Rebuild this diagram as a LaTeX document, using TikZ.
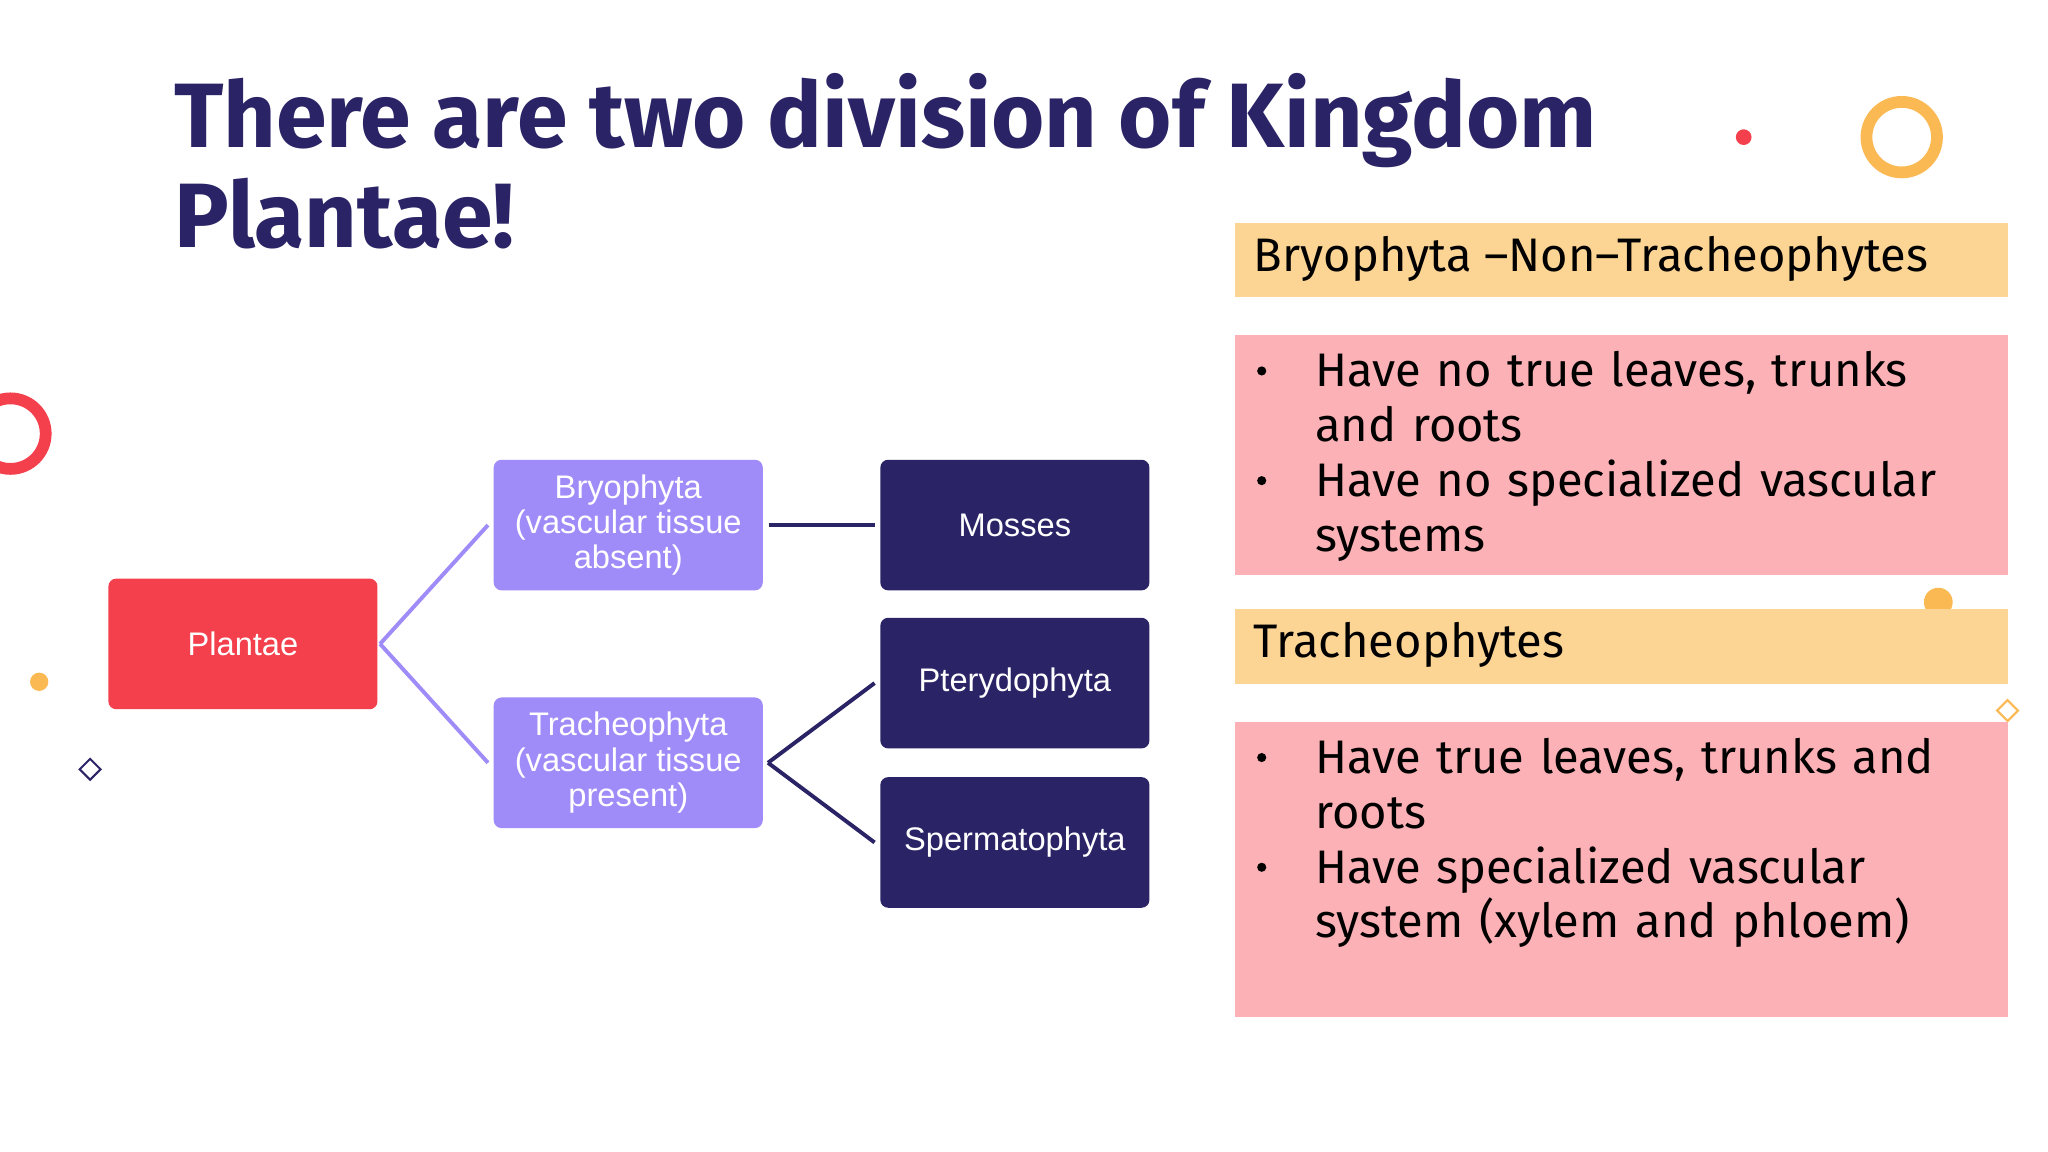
\documentclass[tikz,border=0pt]{standalone}
\usepackage{fontspec}
\setmainfont{Fira Sans}
\newfontfamily\arialf{Liberation Sans}
\usetikzlibrary{shapes.geometric}
\definecolor{navy}{HTML}{2A2466}
\definecolor{redc}{HTML}{F43F4C}
\definecolor{lav}{HTML}{A08CF8}
\definecolor{yel}{HTML}{FCD595}
\definecolor{pinkc}{HTML}{FBB1B5}
\definecolor{orng}{HTML}{FBB954}
\tikzset{
 box/.style={rounded corners=3pt,minimum width=103pt,minimum height=50pt,text=white,font=\arialf\fontsize{12.5}{13.5}\selectfont,align=center,inner sep=1pt},
 band/.style={fill=yel,draw=none,anchor=north west,minimum width=296pt,minimum height=28.5pt,inner sep=0pt},
 pinkbox/.style={fill=pinkc,draw=none,anchor=north west,minimum width=296pt,inner sep=0pt},
 rtext/.style={font=\fontsize{18}{21}\selectfont,text=black,anchor=west},
 btext/.style={font=\fontsize{18}{21}\selectfont,text=black,anchor=north west,align=left,text width=270pt},
 conn/.style={line width=1.5pt}
}
\begin{document}
\begin{tikzpicture}[x=0.5pt,y=-0.5pt]
\useasboundingbox (0,0) rectangle (1568,882);
\fill[white] (0,0) rectangle (1568,882);
% title
\node[anchor=north west,align=left,text=navy,font=\bfseries\fontsize{35}{38}\selectfont,inner sep=0pt] (title) at (133,56) {There are two division of Kingdom\\Plantae!};
% decorations
\fill[redc] (1335,105) circle (6);
\draw[orng,line width=4.5pt] (1456,105) circle (27);
\draw[redc,line width=4.5pt] (8,332) circle (27);
\fill[orng] (30,522) circle (7);
\fill[orng] (1484,461) circle (11);
\draw[navy,line width=0.8pt] (69,581) -- (77,589) -- (69,597) -- (61,589) -- cycle;
\draw[orng,line width=0.8pt] (1537,536) -- (1545,544) -- (1537,552) -- (1529,544) -- cycle;
% tree
\node[box,fill=redc] (pl) at (186,493) {Plantae};
\node[box,fill=lav] (br) at (481,402) {Bryophyta\\(vascular tissue\\absent)};
\node[box,fill=lav] (tr) at (481,584) {Tracheophyta\\(vascular tissue\\present)};
\node[box,fill=navy] (mo) at (777,402) {Mosses};
\node[box,fill=navy] (pt) at (777,523) {Pterydophyta};
\node[box,fill=navy] (sp) at (777,645) {Spermatophyta};
\coordinate (pr) at (291,493);
\draw[conn,lav] (pr) -- ([xshift=-2pt]br.west);
\draw[conn,lav] (pr) -- ([xshift=-2pt]tr.west);
\draw[conn,navy] ([xshift=2pt]br.east) -- ([xshift=-2pt]mo.west);
\coordinate (tc) at (588,584);
\draw[conn,navy] (tc) -- ([xshift=-2pt]pt.west);
\draw[conn,navy] (tc) -- ([xshift=-2pt]sp.west);
% right panel
\node[band] (b1) at (945,170) {};
\node[rtext] (b1t) at (953,198) {Bryophyta –Non–Tracheophytes};
\node[pinkbox,minimum height=92pt] (p1) at (945,256) {};
\node[btext] (p1t) at (1000,262) {Have no true leaves, trunks\\and roots\\Have no specialized vascular\\systems};
\fill (966,284) circle (3.5);
\fill (966,368) circle (3.5);
\node[band] (b2) at (945,466) {};
\node[rtext] (b2t) at (953,494) {Tracheophytes};
\node[pinkbox,minimum height=113pt] (p2) at (945,552) {};
\node[btext] (p2t) at (1000,558) {Have true leaves, trunks and\\roots\\Have specialized vascular\\system (xylem and phloem)};
\fill (966,580) circle (3.5);
\fill (966,664) circle (3.5);
\end{tikzpicture}
\end{document}
